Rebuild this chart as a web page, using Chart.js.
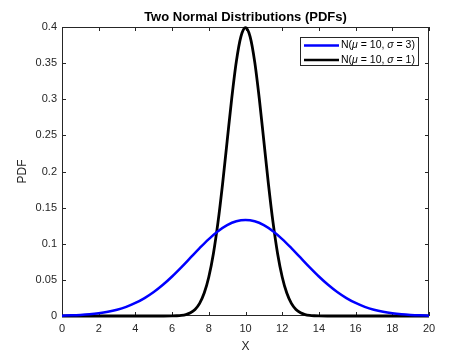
<!DOCTYPE html>
<html><head><meta charset="utf-8">
<script src="https://cdn.jsdelivr.net/npm/chart.js@4/dist/chart.umd.min.js"></script>
<style>html,body{margin:0;padding:0;background:#fff}#c{display:block}</style>
</head><body>
<canvas id="c" width="474" height="355"></canvas>
<script>
const chartTitle = "Two Normal Distributions (PDFs)";
const xAxisLabel = "X";
const yAxisLabel = "PDF";
const xTicks = [0,2,4,6,8,10,12,14,16,18,20];
const yTicks = [0,0.05,0.1,0.15,0.2,0.25,0.3,0.35,0.4];

// N(mu=10, sigma=3)
const xBlue = [0,0.5,1,1.5,2,2.5,3,3.5,4,4.5,5,5.5,6,6.5,7,7.5,8,8.5,9,9.5,10,10.5,11,11.5,12,12.5,13,13.5,14,14.5,15,15.5,16,16.5,17,17.5,18,18.5,19,19.5,20];
const yBlue = [0.00051,0.00088,0.00148,0.00240,0.00380,0.00584,0.00874,0.01272,0.01800,0.02477,0.03316,0.04317,0.05467,0.06733,0.08066,0.09397,0.10648,0.11736,0.12579,0.13115,0.13298,0.13115,0.12579,0.11736,0.10648,0.09397,0.08066,0.06733,0.05467,0.04317,0.03316,0.02477,0.01800,0.01272,0.00874,0.00584,0.00380,0.00240,0.00148,0.00088,0.00051];

// N(mu=10, sigma=1)
const xBlack = [0,2,4,5,5.5,6,6.25,6.5,6.75,7,7.25,7.5,7.75,8,8.25,8.5,8.75,9,9.25,9.5,9.75,10,10.25,10.5,10.75,11,11.25,11.5,11.75,12,12.25,12.5,12.75,13,13.25,13.5,13.75,14,14.5,15,16,18,20];
const yBlack = [0,0,0,0.0000015,0.000016,0.00013,0.00035,0.00087,0.00203,0.00443,0.00909,0.01753,0.03174,0.05399,0.08628,0.12952,0.18265,0.24197,0.30114,0.35207,0.38667,0.39894,0.38667,0.35207,0.30114,0.24197,0.18265,0.12952,0.08628,0.05399,0.03174,0.01753,0.00909,0.00443,0.00203,0.00087,0.00035,0.00013,0.000016,0.0000015,0,0,0];

const legendParts = [
  [["N(", false], ["\u03bc", true], [" = 10, ", false], ["\u03c3", true], [" = 3)", false]],
  [["N(", false], ["\u03bc", true], [" = 10, ", false], ["\u03c3", true], [" = 1)", false]]
];
const seriesColors = ["#0000ff", "#000000"];

const FONT = "'Liberation Sans', Arial, Helvetica, sans-serif";
const AXC = "#262626";

const boxPlugin = {
  id: 'box',
  beforeDatasetsDraw(chart) {
    const {ctx, chartArea: a, scales} = chart;
    ctx.save();
    ctx.strokeStyle = AXC;
    ctx.lineWidth = 1;
    ctx.beginPath();
    ctx.rect(a.left + 0.5, a.top + 0.5, a.right - a.left - 1, a.bottom - a.top - 1);
    const tl = 4;
    xTicks.forEach(v => {
      const px = Math.round(scales.x.getPixelForValue(v)) + 0.5;
      ctx.moveTo(px, a.bottom); ctx.lineTo(px, a.bottom - tl);
      ctx.moveTo(px, a.top); ctx.lineTo(px, a.top + tl);
    });
    yTicks.forEach(v => {
      const py = Math.round(scales.y.getPixelForValue(v)) + 0.5;
      ctx.moveTo(a.left, py); ctx.lineTo(a.left + tl, py);
      ctx.moveTo(a.right, py); ctx.lineTo(a.right - tl, py);
    });
    ctx.stroke();
    // main title
    ctx.fillStyle = "#000";
    ctx.font = "bold 13px " + FONT;
    ctx.textAlign = "center";
    ctx.textBaseline = "middle";
    ctx.fillText(chartTitle, (a.left + a.right) / 2, 17);
    ctx.restore();
  },
  afterDatasetsDraw(chart) {
    const {ctx, chartArea: a} = chart;
    ctx.save();
    const bx = a.right - 129, by = a.top + 10, bw = 118, bh = 28;
    ctx.fillStyle = "#fff";
    ctx.fillRect(bx, by, bw, bh);
    ctx.strokeStyle = AXC;
    ctx.lineWidth = 1;
    ctx.strokeRect(bx + 0.5, by + 0.5, bw, bh);
    legendParts.forEach((parts, i) => {
      const y = by + 8.5 + i * 14.5;
      ctx.strokeStyle = seriesColors[i];
      ctx.lineWidth = 2.5;
      ctx.beginPath();
      ctx.moveTo(bx + 4, y); ctx.lineTo(bx + 39, y);
      ctx.stroke();
      let x = bx + 41;
      ctx.fillStyle = "#000";
      ctx.textBaseline = "middle";
      ctx.textAlign = "left";
      parts.forEach(([t, it]) => {
        ctx.font = (it ? "italic " : "") + "10.5px " + FONT;
        ctx.fillText(t, x, y);
        x += ctx.measureText(t).width;
      });
    });
    ctx.restore();
  }
};

new Chart(document.getElementById('c'), {
  type: 'scatter',
  data: {
    datasets: [
      { data: xBlue.map((x, i) => ({x, y: yBlue[i]})), borderColor: seriesColors[0], borderWidth: 2.5,
        showLine: true, pointRadius: 0, cubicInterpolationMode: 'monotone', clip: 4 },
      { data: xBlack.map((x, i) => ({x, y: yBlack[i]})), borderColor: seriesColors[1], borderWidth: 2.8,
        showLine: true, pointRadius: 0, cubicInterpolationMode: 'monotone', clip: 4 }
    ]
  },
  options: {
    responsive: false, animation: false, devicePixelRatio: 1,
    layout: { padding: { left: 0, top: 27, right: 45, bottom: 0 } },
    plugins: { legend: { display: false }, tooltip: { enabled: false } },
    scales: {
      x: {
        type: 'linear', min: 0, max: 20,
        afterBuildTicks: s => { s.ticks = xTicks.map(v => ({value: v})); },
        afterFit: s => { s.height = 39; },
        grid: { display: false, drawTicks: false },
        border: { display: false },
        ticks: { color: AXC, font: { family: FONT, size: 11 }, padding: 6, maxRotation: 0, callback: v => String(v) },
        title: { display: true, text: xAxisLabel, color: AXC, font: { family: FONT, size: 12 }, padding: { top: 0, bottom: 1 } }
      },
      y: {
        type: 'linear', min: 0, max: 0.4,
        afterBuildTicks: s => { s.ticks = yTicks.map(v => ({value: v})); },
        afterFit: s => { s.width = 62; },
        grid: { display: false, drawTicks: false },
        border: { display: false },
        ticks: { color: AXC, font: { family: FONT, size: 11 }, padding: 5, callback: v => String(v) },
        title: { display: true, text: yAxisLabel, color: AXC, font: { family: FONT, size: 12 }, padding: { top: 15, bottom: 0 } }
      }
    }
  },
  plugins: [boxPlugin]
});
</script>
</body></html>
